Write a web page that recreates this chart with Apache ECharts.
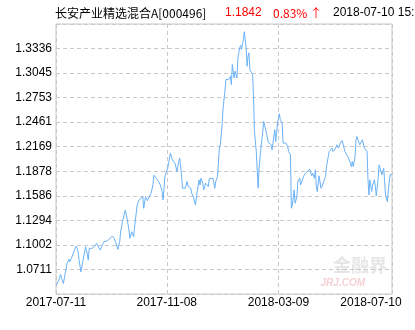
<!DOCTYPE html>
<html>
<head>
<meta charset="utf-8">
<script src="https://cdn.jsdelivr.net/npm/echarts@6/dist/echarts.min.js"></script>
<style>
  html, body { margin: 0; padding: 0; background: #fff; }
  #chart { width: 415px; height: 330px; }
</style>
</head>
<body>
<div id="chart"></div>
<script>
// 标题信息
const fundName = '长安产业精选混合A[000496]'
const lastNav = '1.1842'
const lastChange = '0.83% ↑'
const updateTime = '2018-07-10 15:00'

// 坐标轴刻度
const xTickLabels = ['2017-07-11', '2017-11-08', '2018-03-09', '2018-07-10']
const yTickLabels = ['1.0711', '1.1002', '1.1294', '1.1586', '1.1878', '1.2169', '1.2461', '1.2753', '1.3045', '1.3336']
const yMin = 1.0419
const yStep = 0.0291667

// 净值走势（距 2017-07-11 的天数 / 单位净值）
const dayOffsets = [
  0, 3, 5, 6, 8, 10, 12, 14, 15, 17, 19, 20, 22, 24, 25, 27, 29, 30, 32, 33,
  35, 36, 38, 39, 40, 42, 44, 45, 48, 50, 52, 54, 56, 58, 61, 63, 65, 67, 69, 70,
  72, 73, 75,
  77, 79, 80, 82, 84, 86, 88, 90, 92, 94, 95, 97, 99, 101, 103, 105, 106, 108, 110, 113,
  115, 116, 118, 119, 121, 122, 124, 125, 126, 128, 129, 131, 133, 134, 136, 137, 139, 140, 142, 143,
  144, 146, 147, 149,
  151, 153, 155, 156, 157, 159, 160, 162, 163, 165, 166, 168, 170, 172, 173, 175, 176, 177, 178, 180,
  181, 183, 184, 186, 187, 189, 190, 191, 193, 194, 196, 197, 199, 200, 201, 203, 204, 206, 207, 208,
  209, 210, 212, 213, 214, 215, 217, 218, 219, 220, 222, 224, 225,
  227, 228, 230, 231, 233, 234, 235, 237, 238, 240, 242, 243, 245, 246, 248, 249, 251, 252, 254, 255,
  256, 258, 259, 261, 262, 264, 265, 267, 268, 269, 271, 272, 274, 275, 277, 278, 280, 281, 282, 283,
  285, 286, 287, 289, 290, 292, 293, 295, 296, 298, 299, 300, 302,
  303, 304, 306, 307, 308, 310, 311, 313, 314, 316, 317, 319, 320, 321, 322, 324, 325, 326, 328, 329,
  331, 332, 334, 335, 337, 338, 339, 340, 342, 343, 345, 346, 347, 349, 350, 352, 353, 355, 356, 357,
  359, 360, 362, 364
]
const navValues = [
  1.0524, 1.0583, 1.0651, 1.0607, 1.0544, 1.0663, 1.0782, 1.0830, 1.0801, 1.0854,
  1.0869, 1.0941, 1.0989, 1.0921, 1.0822, 1.0682, 1.0801, 1.0822, 1.0980, 1.0941,
  1.0822, 1.0961, 1.0941, 1.0961, 1.0949, 1.0989, 1.1021, 1.0997, 1.0941, 1.1000,
  1.1040, 1.1033, 1.1052, 1.1068, 1.1108, 1.1080, 1.1021, 1.0949, 1.1040, 1.1155,
  1.1278, 1.1266, 1.1417,
  1.1319, 1.1179, 1.1080, 1.1159, 1.1099, 1.1298, 1.1477, 1.1537, 1.1557, 1.1576,
  1.1438, 1.1576, 1.1528, 1.1528, 1.1617, 1.1715, 1.1831, 1.1823, 1.1775, 1.1715,
  1.1636, 1.1537, 1.1814, 1.1855, 1.1914, 1.1974, 1.2093, 1.2053, 1.2013, 1.2034,
  1.1974, 1.1874, 1.1993, 1.2034, 1.1835, 1.1676, 1.1695, 1.1676, 1.1755, 1.1703,
  1.1695, 1.1676, 1.1617, 1.1569,
  1.1477, 1.1636, 1.1775, 1.1715, 1.1795, 1.1736, 1.1656, 1.1736, 1.1755, 1.1695,
  1.1787, 1.1802, 1.1795, 1.1676, 1.1755, 1.1814, 1.1835, 1.2153, 1.2192, 1.2430,
  1.2629, 1.2827, 1.2967, 1.2987, 1.2967, 1.3006, 1.2907, 1.3145, 1.2987, 1.3066,
  1.2987, 1.3225, 1.3344, 1.3375, 1.3324, 1.3443, 1.3535, 1.3344, 1.3125, 1.3244,
  1.3285, 1.3086, 1.3106, 1.3026, 1.2749, 1.2351, 1.2112, 1.2132, 1.1676, 1.1914,
  1.2153, 1.2351, 1.2470,
  1.2482, 1.2331, 1.2219, 1.2231, 1.2192, 1.2132, 1.2212, 1.2371, 1.2231, 1.2451,
  1.2561, 1.2490, 1.2451, 1.2212, 1.2204, 1.2212, 1.2172, 1.2112, 1.2073, 1.1438,
  1.1477, 1.1656, 1.1497, 1.1576, 1.1755, 1.1795, 1.1715, 1.1775, 1.1795, 1.1835,
  1.1855, 1.1874, 1.1894, 1.1903, 1.1823, 1.1855, 1.1795, 1.1894, 1.1695, 1.1636,
  1.1823, 1.1823, 1.1676, 1.1715, 1.1755, 1.1814, 1.1933, 1.2053, 1.2112, 1.2112,
  1.2153, 1.2112, 1.2132,
  1.2153, 1.2192, 1.2153, 1.2132, 1.2212, 1.2243, 1.2231, 1.2112, 1.2093, 1.2053,
  1.2034, 1.1974, 1.1933, 1.1993, 1.1933, 1.2053, 1.2252, 1.2291, 1.2272, 1.2192,
  1.2172, 1.2252, 1.2153, 1.2172, 1.2112, 1.1775, 1.1596, 1.1775, 1.1636, 1.1715,
  1.1775, 1.1695, 1.1584, 1.1795, 1.1954, 1.1954, 1.1835, 1.1914, 1.1755, 1.1596,
  1.1516, 1.1656, 1.1835, 1.1842
]

const DAY = 86400000
const toTime = (s) => {
  const p = s.split('-')
  return Date.UTC(+p[0], +p[1] - 1, +p[2])
}
const startTime = toTime(xTickLabels[0])
// 刻度日期换算成距起始日的天数
const xTicks = xTickLabels.map((s) => Math.round((toTime(s) - startTime) / DAY))
const lastTick = xTicks[xTicks.length - 1]
const seriesData = dayOffsets.map((d, i) => [d, navValues[i]])

const labelFont = 'Liberation Sans, Arial, sans-serif'
const cjkFont = 'Noto Sans CJK SC, sans-serif'

const chart = echarts.init(document.getElementById('chart'), null, { renderer: 'canvas' })

chart.setOption({
  animation: false,
  backgroundColor: '#fff',
  title: {
    left: 55,
    top: 7,
    padding: 0,
    text: `{a|${fundName}}{b|${lastNav}}{c|${lastChange}}{d|${updateTime}}`,
    textStyle: {
      fontWeight: 'normal',
      rich: {
        a: { width: 170, fontSize: 12, fontWeight: 'normal', color: '#000', fontFamily: cjkFont },
        b: { width: 48, fontSize: 12, fontWeight: 'normal', color: '#ff0000', fontFamily: labelFont },
        c: { width: 60, fontSize: 12, fontWeight: 'normal', color: '#ff0000', fontFamily: cjkFont },
        d: { fontSize: 12, fontWeight: 'normal', color: '#000', fontFamily: labelFont }
      }
    }
  },
  grid: {
    left: 56,
    right: 23,
    top: 24,
    bottom: 36,
    show: true,
    borderColor: '#c8c8c8',
    borderWidth: 1,
    containLabel: false
  },
  xAxis: {
    type: 'value',
    min: 0,
    max: lastTick,
    axisLine: { show: false },
    axisTick: { show: false, customValues: xTicks },
    axisLabel: {
      customValues: xTicks,
      margin: 3,
      color: '#000',
      fontSize: 12,
      fontFamily: labelFont,
      formatter: (v) => {
        const s = xTickLabels[xTicks.indexOf(Math.round(v))] || ''
        return Math.round(v) === lastTick ? `{last|${s}}` : s
      },
      rich: {
        last: { padding: [0, 42, 0, 0], fontSize: 12, color: '#000', fontFamily: labelFont }
      }
    },
    splitLine: {
      show: true,
      lineStyle: { color: '#c8c8c8', type: [4, 3], width: 1 }
    }
  },
  yAxis: {
    type: 'value',
    min: yMin,
    max: yMin + yStep * 11,
    interval: yStep,
    axisLine: { show: false },
    axisTick: { show: false },
    axisLabel: {
      margin: 4,
      color: '#000',
      fontSize: 12,
      fontFamily: labelFont,
      formatter: (v) => {
        const i = Math.round((v - yMin) / yStep)
        return yTickLabels[i - 1] || ''
      }
    },
    splitLine: {
      show: true,
      lineStyle: { color: '#c8c8c8', type: [4, 3], width: 1 }
    }
  },
  graphic: [
    {
      type: 'text',
      right: 28,
      bottom: 56,
      z: 0,
      style: { text: '金融界', fontSize: 18, fontWeight: 'bold', fontFamily: cjkFont, fill: 'rgba(200,200,200,0.45)' }
    },
    {
      type: 'text',
      right: 50,
      bottom: 42,
      z: 0,
      style: { text: 'JRJ.COM', fontSize: 10, fontStyle: 'italic', fontWeight: 'bold', fontFamily: labelFont, fill: 'rgba(230,120,120,0.35)' }
    }
  ],
  series: [
    {
      name: '单位净值',
      type: 'line',
      data: seriesData,
      showSymbol: false,
      symbol: 'none',
      lineStyle: { color: '#6ab2f8', width: 1 },
      z: 3
    }
  ]
})
</script>
</body>
</html>
